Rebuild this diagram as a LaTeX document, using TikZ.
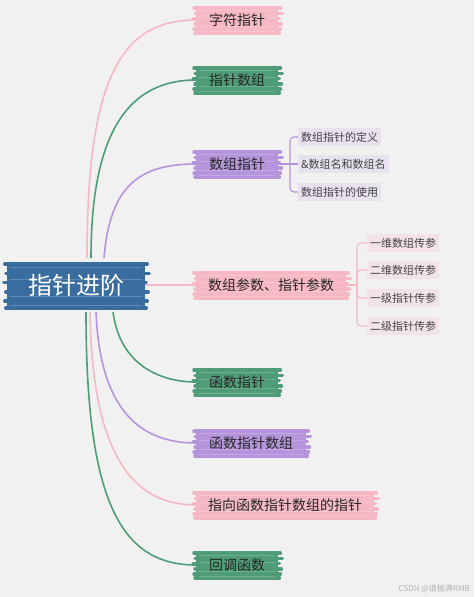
\documentclass[tikz,border=0pt]{standalone}
\usepackage{fontspec}
\setmainfont{Noto Sans CJK SC}
\usetikzlibrary{calc}
\definecolor{bgc}{HTML}{F1F1F1}
\definecolor{pinkc}{HTML}{F5B8C4}
\definecolor{greenc}{HTML}{4E9C78}
\definecolor{purplec}{HTML}{B594DC}
\definecolor{bluec}{HTML}{3A6D9F}
\definecolor{subpur}{HTML}{E8E2EE}
\definecolor{subpink}{HTML}{F3E3E6}
\definecolor{subtext}{HTML}{444444}
\pgfdeclarelayer{back}
\pgfdeclarelayer{bg}
\pgfsetlayers{back,bg,main}
\newcommand\brush[2]{%
\begin{pgfonlayer}{bg}
\fill[#2] ($(#1.north west)+(0,2)$) rectangle ($(#1.south east)+(0,-2)$);
\foreach \f/\dl/\dr in {0.05/-2/2, 0.25/-1/4, 0.45/-3/1, 0.65/-1/3, 0.85/-2/2, 1.0/-1/1}
  \draw[#2, line width=3.5pt, line cap=round] ($(#1.north west)!\f!(#1.south west)+(\dl,0)$) -- ($(#1.north east)!\f!(#1.south east)+(\dr,0)$);
\foreach \f in {0.12,0.38,0.74,0.93}
  \draw[white, opacity=0.2, line width=0.6pt] ($(#1.north west)!\f!(#1.south west)+(3,0)$) -- ($(#1.north east)!\f!(#1.south east)+(-3,0)$);
\end{pgfonlayer}}
\begin{document}
\begin{tikzpicture}[x=1pt,y=-1pt,
  mainbox/.style={anchor=west, minimum height=26pt, inner sep=0pt, font=\fontsize{14}{16}\selectfont, text=black!85},
  subbox/.style={anchor=west, minimum height=18pt, inner sep=3pt, font=\fontsize{11}{13}\selectfont, text=subtext},
  link/.style={line width=1.6pt},
  sublink/.style={line width=1.1pt, rounded corners=4pt}]
\begin{pgfonlayer}{back}
\fill[bgc] (0,0) rectangle (474,597);
\end{pgfonlayer}
\useasboundingbox (0,0) rectangle (474,597);

% root
\node[anchor=center, minimum width=138pt, minimum height=46pt, inner sep=0pt,
  font=\fontsize{24}{26}\selectfont, text=white] (root) at (76,285) {指针进阶};
\brush{root}{bluec}

% main nodes
\node[mainbox, minimum width=82pt] (n1) at (196,20) {字符指针};
\node[mainbox, minimum width=82pt] (n2) at (196,80) {指针数组};
\node[mainbox, minimum width=82pt] (n3) at (196,164) {数组指针};
\node[mainbox, minimum width=150pt] (n4) at (196,285) {数组参数、指针参数};
\node[mainbox, minimum width=82pt] (n5) at (196,382) {函数指针};
\node[mainbox, minimum width=110pt] (n6) at (196,443) {函数指针数组};
\node[mainbox, minimum width=178pt] (n7) at (196,505) {指向函数指针数组的指针};
\node[mainbox, minimum width=82pt] (n8) at (196,565) {回调函数};
\brush{n1}{pinkc}
\brush{n2}{greenc}
\brush{n3}{purplec}
\brush{n4}{pinkc}
\brush{n5}{greenc}
\brush{n6}{purplec}
\brush{n7}{pinkc}
\brush{n8}{greenc}

% connector start points on root
\coordinate (t1) at (87,258);
\coordinate (t2) at (91,258);
\coordinate (t3) at (104,258);
\coordinate (b5) at (113,312);
\coordinate (b6) at (96,312);
\coordinate (b7) at (90,312);
\coordinate (b8) at (86,312);

\begin{pgfonlayer}{bg}
\draw[link, pinkc] (t1) .. controls (87,80) and (120,20) .. (n1.west);
\draw[link, greenc] (t2) .. controls (91,130) and (130,80) .. (n2.west);
\draw[link, purplec] (t3) .. controls (110,185) and (140,164) .. (n3.west);
\draw[link, pinkc] (root.east |- n4.west) -- (n4.west);
\draw[link, greenc] (b5) .. controls (120,365) and (160,382) .. (n5.west);
\draw[link, purplec] (b6) .. controls (100,410) and (140,443) .. (n6.west);
\draw[link, pinkc] (b7) .. controls (92,450) and (130,505) .. (n7.west);
\draw[link, greenc] (b8) .. controls (86,500) and (120,565) .. (n8.west);
\end{pgfonlayer}

% sub nodes of 数组指针
\node[subbox, fill=subpur] (s1) at (298,137) {数组指针的定义};
\node[subbox, fill=subpur] (s2) at (298,164) {\&数组名和数组名};
\node[subbox, fill=subpur] (s3) at (298,192) {数组指针的使用};
\coordinate (j3) at (290,164);
\draw[sublink, purplec] (n3.east) -- (j3);
\draw[sublink, purplec] (s1.west) -| (j3) |- (s3.west);
\draw[sublink, purplec] (j3) -- (s2.west);

% sub nodes of 数组参数
\node[subbox, fill=subpink] (p1) at (367,243) {一维数组传参};
\node[subbox, fill=subpink] (p2) at (367,270) {二维数组传参};
\node[subbox, fill=subpink] (p3) at (367,298) {一级指针传参};
\node[subbox, fill=subpink] (p4) at (367,326) {二级指针传参};
\coordinate (j4) at (357,285);
\draw[sublink, pinkc] (n4.east) -- (j4);
\draw[sublink, pinkc] (p1.west) -| (j4) |- (p4.west);
\draw[sublink, pinkc] (p2.west) -| (j4);
\draw[sublink, pinkc] (p3.west) -| (j4);

% watermark
\node[anchor=east, font=\fontsize{8}{9}\selectfont, text=black!30, inner sep=0pt] (wm) at (470,589) {CSDN @请揣满RMB};
\end{tikzpicture}
\end{document}
